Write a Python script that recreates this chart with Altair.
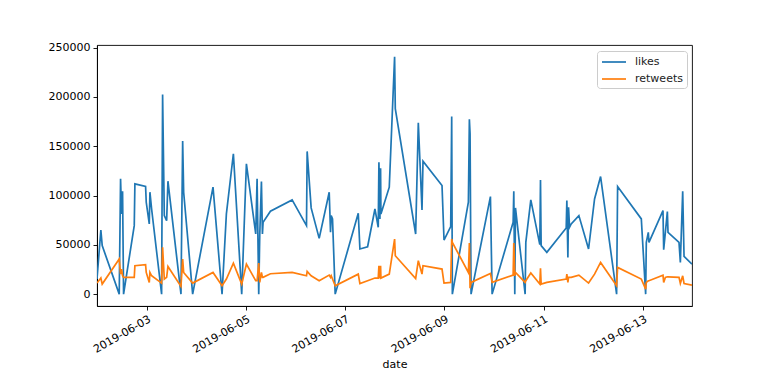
import altair as alt
import pandas as pd

dates = [
    "2019-06-02T00:00", "2019-06-02T01:52", "2019-06-02T02:31", "2019-06-02T10:45", "2019-06-02T11:24",
    "2019-06-02T11:53", "2019-06-02T12:22", "2019-06-02T12:51", "2019-06-02T18:01", "2019-06-02T18:20",
    "2019-06-02T23:30", "2019-06-02T23:49",
    "2019-06-03T01:17", "2019-06-03T01:36", "2019-06-03T02:25", "2019-06-03T07:15", "2019-06-03T07:44",
    "2019-06-03T08:33", "2019-06-03T09:41", "2019-06-03T10:19", "2019-06-03T16:37", "2019-06-03T17:26",
    "2019-06-03T17:55", "2019-06-03T22:16",
    "2019-06-04T08:07", "2019-06-04T12:29", "2019-06-04T14:35", "2019-06-04T17:58", "2019-06-04T22:00",
    "2019-06-05T00:16", "2019-06-05T04:47", "2019-06-05T05:26", "2019-06-05T06:14", "2019-06-05T06:43",
    "2019-06-05T07:32", "2019-06-05T08:01", "2019-06-05T08:20", "2019-06-05T11:53", "2019-06-05T22:23",
    "2019-06-06T05:20", "2019-06-06T05:39", "2019-06-06T07:35", "2019-06-06T11:28", "2019-06-06T16:19",
    "2019-06-06T16:57", "2019-06-06T17:17", "2019-06-06T17:55", "2019-06-06T19:13",
    "2019-06-07T06:22", "2019-06-07T07:10", "2019-06-07T10:53", "2019-06-07T14:26", "2019-06-07T16:02",
    "2019-06-07T16:22", "2019-06-07T16:51", "2019-06-07T17:10", "2019-06-07T17:20", "2019-06-07T21:22",
    "2019-06-07T23:57",
    "2019-06-08T00:17", "2019-06-08T10:08", "2019-06-08T11:25", "2019-06-08T13:12", "2019-06-08T13:41",
    "2019-06-08T22:53", "2019-06-08T23:51",
    "2019-06-09T03:05", "2019-06-09T03:34", "2019-06-09T03:53", "2019-06-09T11:38", "2019-06-09T12:07",
    "2019-06-09T12:27", "2019-06-09T12:56", "2019-06-09T22:18", "2019-06-09T23:07",
    "2019-06-10T09:17", "2019-06-10T09:36", "2019-06-10T10:05", "2019-06-10T10:25", "2019-06-10T15:05",
    "2019-06-10T15:25", "2019-06-10T17:50", "2019-06-10T22:11", "2019-06-10T22:31", "2019-06-10T22:50",
    "2019-06-11T01:35", "2019-06-11T10:57", "2019-06-11T11:16", "2019-06-11T11:46", "2019-06-11T12:05",
    "2019-06-11T12:34", "2019-06-11T13:22", "2019-06-11T17:05", "2019-06-11T21:46",
    "2019-06-12T00:40", "2019-06-12T03:35", "2019-06-12T11:20", "2019-06-12T11:49", "2019-06-12T23:17",
    "2019-06-13T01:23", "2019-06-13T01:42", "2019-06-13T02:40", "2019-06-13T02:59", "2019-06-13T09:46",
    "2019-06-13T10:06", "2019-06-13T10:55", "2019-06-13T11:53", "2019-06-13T12:12", "2019-06-13T17:31",
    "2019-06-13T18:10", "2019-06-13T19:18", "2019-06-13T19:57", "2019-06-13T23:48",
]

likes = [
    15300, 65100, 49200, 0, 117000, 81400, 104400, 0, 69500, 111900, 109200, 93200,
    71200, 103400, 86400, 0, 202400, 79700, 74600, 114600, 0, 155300, 103400, 0,
    108500, 0, 81400, 142400, 0,
    132200, 61000, 117000, 0, 59300, 114200, 61000, 72900, 84100, 95600,
    69500, 144800, 87500, 56600, 103400, 62700, 79700, 76300, 0,
    82000, 45800, 48100, 86400, 67800, 133900, 76300, 127800, 81400, 108500, 240700,
    188100, 61000, 173900, 85400, 134900, 110200, 54900,
    68500, 180300, 0, 93200, 177300, 162700, 0, 99000, 0,
    72900, 104400, 0, 87500, 0, 52500, 95600, 50200, 115900, 49200,
    42400, 67100, 94900, 37300, 88100, 67800, 71200, 79700, 45800,
    96600, 119300, 0, 109200, 76300,
    0, 52500, 62700, 52500, 84800, 45100, 62700, 83700, 62700, 52500, 32200, 104400, 38300, 30500,
]

retweets = [
    11200, 16300, 10200, 35600, 20300, 25400, 18600, 17000, 17000, 28800, 29800, 22000,
    11900, 22000, 18600, 11200, 47500, 15300, 17000, 28100, 7800, 35600, 22000, 11200,
    22000, 8500, 15300, 31500, 10200,
    30500, 13600, 13600, 31500, 11900, 22000, 17000, 17000, 20700, 22000,
    18600, 23100, 18600, 13600, 19300, 17000, 18600, 15300, 8500,
    20300, 10800, 13600, 16300, 16300, 28800, 15900, 28800, 16300, 20300, 55900,
    39000, 15900, 33900, 20300, 28800, 25400, 11200,
    11900, 55900, 52500, 22000, 51900, 6100, 11900, 21000, 11900,
    19300, 51900, 18600, 22000, 11900, 13600, 21400, 10200, 26100, 10200,
    11900, 15300, 20300, 11900, 17000, 17000, 17000, 19300, 11200,
    20300, 32200, 8500, 27100, 15300,
    5100, 11900, 13600, 13600, 19300, 11900, 17000, 17600, 17600, 17000, 10800, 18600, 10800, 9200,
]

series_names = ["likes", "retweets"]
series_colors = ["#1f77b4", "#ff7f0e"]
y_ticks = [0, 50000, 100000, 150000, 200000, 250000]
x_tick_days = [3, 5, 7, 9, 11, 13]

df = pd.DataFrame({"date": dates, "likes": likes, "retweets": retweets})

FONT = "DejaVu Sans"

chart = (
    alt.Chart(df)
    .transform_fold(series_names, as_=["series", "value"])
    .mark_line(strokeWidth=1.7, clip=True)
    .encode(
        x=alt.X(
            "date:T",
            title="date",
            scale=alt.Scale(nice=False, padding=0),
            axis=alt.Axis(
                values=[alt.DateTime(year=2019, month=6, date=d) for d in x_tick_days],
                format="%Y-%m-%d",
                labelAngle=-30,
                labelAlign="right",
                labelBaseline="top",
                grid=False,
            ),
        ),
        y=alt.Y(
            "value:Q",
            title=None,
            scale=alt.Scale(domain=[-12035, 252735], nice=False, zero=False),
            axis=alt.Axis(values=y_ticks, format="d", grid=False),
        ),
        color=alt.Color(
            "series:N",
            scale=alt.Scale(domain=series_names, range=series_colors),
            legend=alt.Legend(
                title=None,
                orient="none",
                legendX=500,
                legendY=6,
                symbolType="M-2,0H2",
                symbolSize=144,
                symbolOffset=6,
                symbolStrokeWidth=1.7,
                labelFontSize=11,
                labelFont=FONT,
                labelColor="#222222",
                labelOffset=14,
                rowPadding=5,
                padding=4,
                strokeColor="#cccccc",
                fillColor="white",
                cornerRadius=3,
            ),
        ),
        order=alt.Order("date:T"),
    )
    .properties(
        width=595,
        height=261,
        autosize=alt.AutoSizeParams(type="none"),
        padding={"left": 89, "top": 37, "right": 60, "bottom": 70},
    )
    .configure_view(stroke="black", strokeWidth=0.9)
    .configure_axis(
        labelFont=FONT,
        labelFontSize=11,
        labelColor="black",
        titleFont=FONT,
        titleFontSize=11,
        titleFontWeight="normal",
        titleColor="black",
        tickColor="black",
        tickSize=4,
        labelPadding=3,
        domainColor="black",
        domainWidth=0.9,
        tickWidth=0.9,
    )
    .configure_axisX(titlePadding=4)
)

chart.save("out.html", embed_options={"renderer": "svg", "actions": False})
